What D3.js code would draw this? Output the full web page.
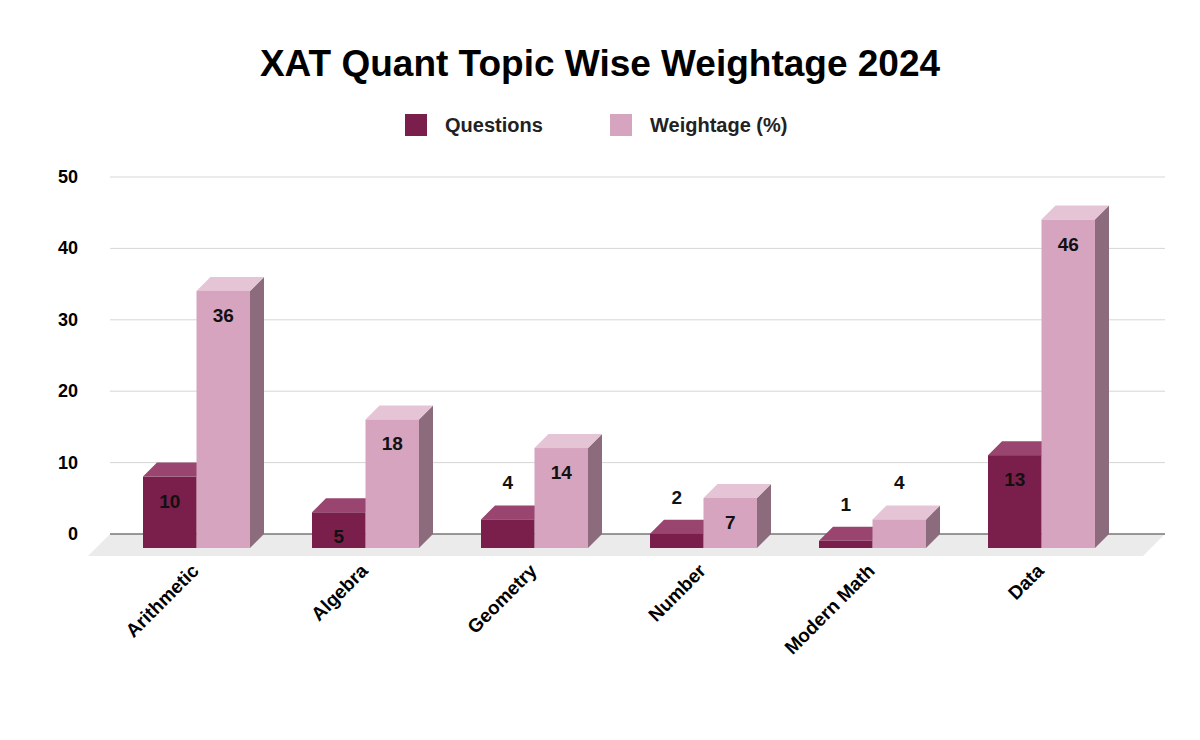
<!DOCTYPE html>
<html><head><meta charset="utf-8">
<script src="https://cdn.jsdelivr.net/npm/d3@7"></script>
<style>body{margin:0;background:#fff}text{font-family:"Liberation Sans",Arial,sans-serif}</style>
</head><body><svg width="1200" height="740"></svg>
<script>
// data
const categories = ["Arithmetic", "Algebra", "Geometry", "Number", "Modern Math", "Data"];
const questions = [10, 5, 4, 2, 1, 13];
const weightage = [36, 18, 14, 7, 4, 46];
const series = ["Questions", "Weightage (%)"];
const yTicks = [0, 10, 20, 30, 40, 50];

const svg = d3.select("svg");
const dep = 14; // 3d depth
const front = {Questions: "#7a1e4c", "Weightage (%)": "#d6a4bf"};
const top_ = {Questions: "#9a456f", "Weightage (%)": "#e5c4d6"};
const side = {Questions: "#5a1537", "Weightage (%)": "#8c6b7d"};

var ys = d3.scaleLinear().domain([0, 50]).range([534, 177]);
var xs = d3.scaleBand().domain(categories).range([112, 1126]);
var xi = d3.scaleBand().domain(series).range([0, 107]);
const off = (xs.step() - 107) / 2;

svg.append("text").attr("x", 600).attr("y", 76).attr("text-anchor", "middle")
  .attr("font-size", 37).attr("font-weight", "bold").text("XAT Quant Topic Wise Weightage 2024");

// legend
const leg = [{s: "Questions", x: 405}, {s: "Weightage (%)", x: 610}];
leg.forEach(function(l) {
  svg.append("rect").attr("x", l.x).attr("y", 114).attr("width", 22).attr("height", 22).attr("fill", front[l.s]);
  svg.append("text").attr("x", l.x + 40).attr("y", 132).attr("font-size", 20).attr("font-weight", "bold").attr("fill", "#222").text(l.s);
});

// floor
svg.append("polygon").attr("fill", "#ebebeb")
  .attr("points", [[110, ys(0)], [1165, ys(0)], [1165 - 22, ys(0) + 22], [110 - 22, ys(0) + 22]].join(" "));

// grid
svg.append("g").selectAll("line").data(yTicks).enter().append("line")
  .attr("x1", 110).attr("x2", 1165).attr("y1", d => ys(d)).attr("y2", d => ys(d))
  .attr("stroke", d => d === 0 ? "#777" : "#d6d6d6").attr("stroke-width", d => d === 0 ? 1.5 : 1);
svg.append("g").selectAll("text").data(yTicks).enter().append("text")
  .attr("x", 78).attr("y", d => ys(d) + 6).attr("text-anchor", "end")
  .attr("font-size", 18).attr("font-weight", "bold").text(d => d);

const bars = [];
categories.forEach(function(c, i) {
  bars.push({c: c, s: "Questions", v: questions[i]});
  bars.push({c: c, s: "Weightage (%)", v: weightage[i]});
});
const w = xi.bandwidth();
const g = svg.append("g");
bars.forEach(function(b) {
  const x0 = xs(b.c) + off + xi(b.s);
  const yt = ys(b.v) + dep, yb = ys(0) + dep;
  g.append("polygon").attr("fill", side[b.s])
    .attr("points", [[x0 + w, yt], [x0 + w + dep, yt - dep], [x0 + w + dep, yb - dep], [x0 + w, yb]].join(" "));
  g.append("polygon").attr("fill", top_[b.s])
    .attr("points", [[x0, yt], [x0 + dep, yt - dep], [x0 + w + dep, yt - dep], [x0 + w, yt]].join(" "));
  g.append("rect").attr("x", x0).attr("y", yt).attr("width", w).attr("height", yb - yt).attr("fill", front[b.s]);
  const inside = b.v >= 5;
  g.append("text").attr("x", x0 + w / 2).attr("y", inside ? yt + 31 : ys(b.v) - 16)
    .attr("text-anchor", "middle").attr("font-size", 19).attr("font-weight", "bold").attr("fill", "#111").text(b.v);
});

// x labels
svg.append("g").selectAll("text").data(categories).enter().append("text")
  .attr("transform", d => "translate(" + (xs(d) + off + 53 + 4) + ",572) rotate(-45)")
  .attr("text-anchor", "end").attr("font-size", 19).attr("font-weight", "bold").text(d => d);
</script></body></html>
